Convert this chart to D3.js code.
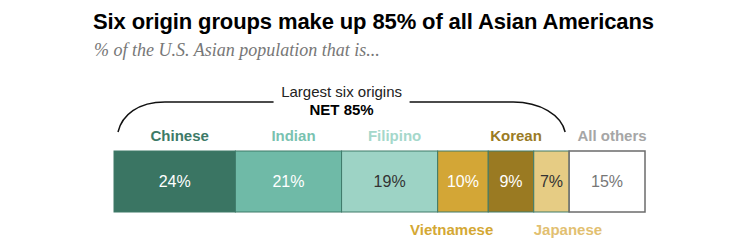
<!DOCTYPE html>
<html>
<head>
<meta charset="utf-8">
<script src="https://cdn.jsdelivr.net/npm/d3@7"></script>
<style>
  body { margin: 0; background: #fff; }
  svg { display: block; }
</style>
</head>
<body>
<div id="chart"></div>
<script>
// data
const origins = ["Chinese", "Indian", "Filipino", "Vietnamese", "Korean", "Japanese", "All others"];
const shares = [24, 21, 19, 10, 9, 7, 15];
const labelSide = ["above", "above", "above", "below", "above", "below", "above"];
const netLabel = "NET 85%";
const bracketLabel = "Largest six origins";
const bracketCount = 6;

const fills = ["#3a7563", "#6fbaa7", "#9dd3c5", "#d3a636", "#9a7a22", "#e6cc84", "#ffffff"];
const nameColors = ["#3d7a67", "#79c2b0", "#a5d8cb", "#d4a834", "#9a7b25", "#e2c071", "#a6a6a6"];
const valueColors = ["#ffffff", "#ffffff", "#333333", "#ffffff", "#ffffff", "#333333", "#777777"];

const width = 750, height = 250;
const sans = "'Liberation Sans', Arial, sans-serif";

const svg = d3.select("#chart").append("svg")
    .attr("width", width)
    .attr("height", height);

svg.append("text")
    .attr("x", 93).attr("y", 29)
    .style("font-family", sans)
    .style("font-weight", "bold")
    .style("font-size", "22px")
    .attr("fill", "#000")
    .attr("textLength", 561)
    .text("Six origin groups make up 85% of all Asian Americans");

svg.append("text")
    .attr("x", 94).attr("y", 56)
    .style("font-family", "'Liberation Serif', Georgia, serif")
    .style("font-style", "italic")
    .style("font-size", "18px")
    .attr("fill", "#777")
    .text("% of the U.S. Asian population that is...");

const total = d3.sum(shares);
const x = d3.scaleLinear().domain([0, total]).range([114, 645]);
const barTop = 151, barH = 61;

const segs = [];
let acc = 0;
shares.forEach((v, i) => {
    segs.push({ name: origins[i], value: v, x0: acc, x1: acc + v, i: i });
    acc += v;
});

const bar = svg.append("g");
bar.selectAll("rect")
    .data(segs)
    .join("rect")
    .attr("x", d => x(d.x0))
    .attr("y", barTop)
    .attr("width", d => x(d.x1) - x(d.x0))
    .attr("height", barH)
    .attr("fill", d => fills[d.i])
    .attr("stroke", d => d.i === segs.length - 1 ? "#6b6b6b" : "#3e7a69")
    .attr("stroke-width", d => d.i === segs.length - 1 ? 1.5 : 1);

bar.selectAll("text.val")
    .data(segs)
    .join("text")
    .attr("class", "val")
    .attr("x", d => (x(d.x0) + x(d.x1)) / 2)
    .attr("y", barTop + barH / 2)
    .attr("dy", "0.35em")
    .attr("text-anchor", "middle")
    .style("font-family", sans)
    .style("font-size", "16px")
    .attr("fill", d => valueColors[d.i])
    .text(d => d.value + "%");

// category names
bar.selectAll("text.name")
    .data(segs)
    .join("text")
    .attr("class", "name")
    .attr("x", d => {
        if (labelSide[d.i] === "above") return (x(d.x0) + x(d.x1)) / 2 + 5;
        if (d.name === "Vietnamese") return x(d.x1) + 5;
        return x(d.x0);
    })
    .attr("y", d => labelSide[d.i] === "above" ? 136 : 230)
    .attr("dy", "0.35em")
    .attr("text-anchor", d => {
        if (labelSide[d.i] === "above") return "middle";
        return d.name === "Vietnamese" ? "end" : "start";
    })
    .style("font-family", sans)
    .style("font-weight", "bold")
    .style("font-size", "15px")
    .attr("fill", d => nameColors[d.i])
    .text(d => d.name);

// bracket over the largest six
const bx0 = x(0) + 4;
const bx1 = x(d3.sum(shares.slice(0, bracketCount))) - 4;
const by = 102, bBottom = 132;
const mid = (bx0 + bx1) / 2;
const gapHalf = 68;

const path = d3.path();
path.moveTo(bx0, bBottom);
path.bezierCurveTo(bx0 + 4, by + 13, bx0 + 20, by, bx0 + 47, by);
path.lineTo(mid - gapHalf, by);
path.moveTo(mid + gapHalf, by);
path.lineTo(bx1 - 52, by);
path.bezierCurveTo(bx1 - 25, by, bx1 - 4, by + 13, bx1, bBottom);

svg.append("path")
    .attr("d", path.toString())
    .attr("fill", "none")
    .attr("stroke", "#111")
    .attr("stroke-width", 1.5);

svg.append("text")
    .attr("x", mid).attr("y", 92)
    .attr("dy", "0.35em")
    .attr("text-anchor", "middle")
    .style("font-family", sans)
    .style("font-size", "15px")
    .attr("fill", "#222")
    .text(bracketLabel);

svg.append("text")
    .attr("x", mid).attr("y", 110)
    .attr("dy", "0.35em")
    .attr("text-anchor", "middle")
    .style("font-family", sans)
    .style("font-weight", "bold")
    .style("font-size", "15px")
    .attr("fill", "#000")
    .text(netLabel);
</script>
</body>
</html>
